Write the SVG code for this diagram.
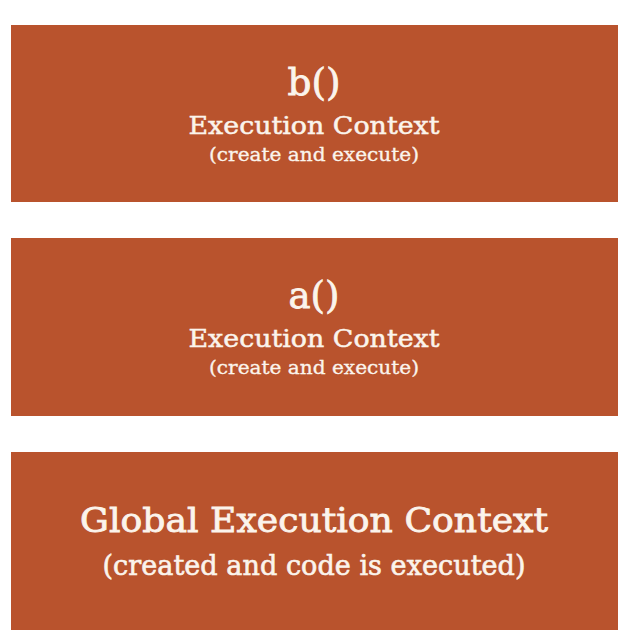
<svg xmlns="http://www.w3.org/2000/svg" width="631" height="640" viewBox="0 0 631 640">
<style>
.box{fill:#B9532D}
.t{fill:#FBF4EC;stroke:#FBF4EC;stroke-width:0.5;font-family:"DejaVu Serif","Liberation Serif",serif;text-anchor:middle}
.fn{font-size:37px;stroke-width:0.8}
.ec{font-size:25px}
.sub{font-size:19px;stroke-width:0.3;font-stretch:condensed;font-family:"DejaVu Serif Condensed","DejaVu Serif",serif}
.g1{font-size:34px;stroke-width:0.8}
.g2{font-size:27px;stroke-width:0.6}
</style>
<rect x="0" y="0" width="631" height="640" fill="#FFFFFF"/>
<g id="node-b">
<rect class="box" x="11" y="25" width="607" height="177"/>
<text class="t fn" x="314" y="95" textLength="53" lengthAdjust="spacingAndGlyphs">b()</text>
<text class="t ec" x="314" y="134" textLength="251" lengthAdjust="spacingAndGlyphs">Execution Context</text>
<text class="t sub" x="314" y="161" textLength="210" lengthAdjust="spacingAndGlyphs">(create and execute)</text>
</g>
<g id="node-a">
<rect class="box" x="11" y="238" width="607" height="178"/>
<text class="t fn" x="314" y="308" textLength="51" lengthAdjust="spacingAndGlyphs">a()</text>
<text class="t ec" x="314" y="347" textLength="251" lengthAdjust="spacingAndGlyphs">Execution Context</text>
<text class="t sub" x="314" y="374" textLength="210" lengthAdjust="spacingAndGlyphs">(create and execute)</text>
</g>
<g id="node-global">
<rect class="box" x="11" y="452" width="607" height="178"/>
<text class="t g1" x="314" y="532" textLength="468" lengthAdjust="spacingAndGlyphs">Global Execution Context</text>
<text class="t g2" x="314" y="575" textLength="423" lengthAdjust="spacingAndGlyphs">(created and code is executed)</text>
</g>
<g id="connectors"></g>
</svg>
